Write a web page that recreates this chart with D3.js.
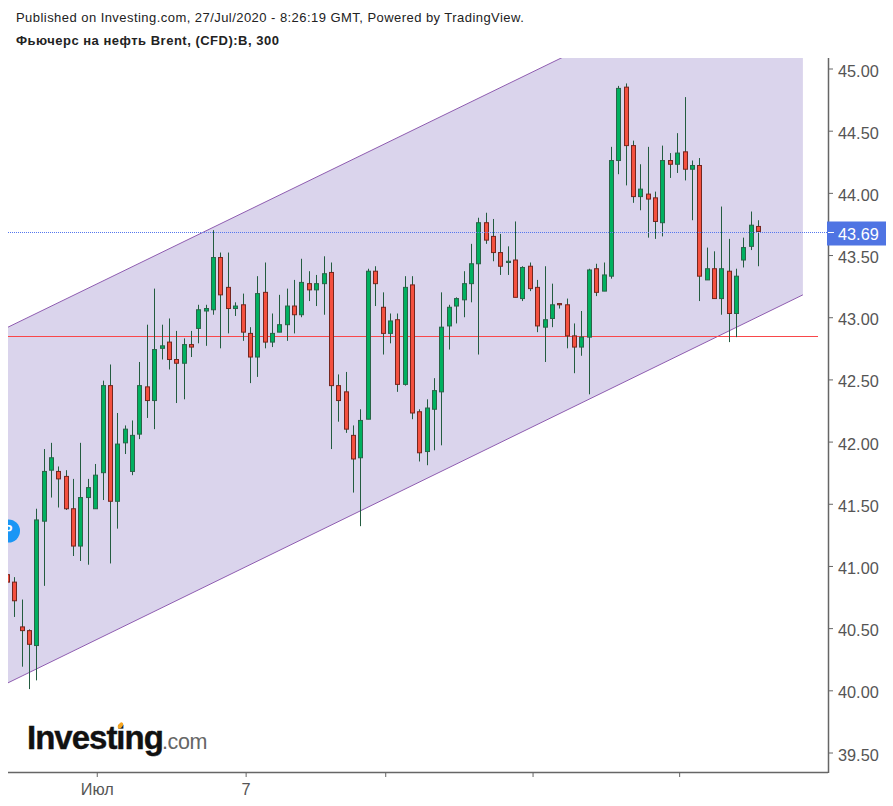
<!DOCTYPE html>
<html><head><meta charset="utf-8">
<script src="https://cdnjs.cloudflare.com/ajax/libs/d3/7.8.5/d3.min.js"></script>
<style>html,body{margin:0;background:#fff}svg{display:block}text{font-family:"Liberation Sans",Arial,sans-serif}</style>
</head><body><svg id="c" width="893" height="806"></svg>
<script>
// Bars: 0 is the clipped one at the left edge, 102 the last
const opens=[40.93,40.87,40.51,40.48,40.36,41.36,41.77,41.76,41.72,41.46,41.16,41.55,41.46,41.75,42.45,41.52,41.99,41.76,42.06,42.44,42.33,42.75,42.80,42.66,42.63,42.78,42.91,43.05,43.06,43.48,43.24,43.07,43.10,42.87,42.68,43.20,42.80,42.88,42.94,43.09,43.02,43.27,43.22,43.27,43.36,42.45,42.40,42.05,41.87,42.18,43.37,43.08,42.87,42.98,42.46,43.26,42.24,41.92,42.26,42.40,42.93,43.09,43.14,43.27,43.43,43.76,43.65,43.52,43.44,43.46,43.15,43.41,43.24,42.92,42.99,43.11,43.10,42.85,42.76,42.84,43.39,43.21,43.33,44.26,44.85,44.38,43.97,43.99,43.96,43.76,44.26,44.23,44.33,44.19,44.22,43.30,43.39,43.15,43.37,43.03,43.46,43.57,43.73];
const closes=[40.87,40.72,40.48,40.37,41.37,41.76,41.87,41.70,41.46,41.16,41.55,41.63,41.73,42.45,41.52,41.98,42.10,42.05,42.45,42.33,42.74,42.77,42.66,42.63,42.78,42.76,43.06,43.07,43.48,43.18,43.07,43.09,42.88,42.68,43.19,42.80,42.87,42.94,43.09,43.02,43.28,43.22,43.27,43.35,42.45,42.33,42.10,41.86,42.17,43.37,43.27,42.87,42.97,42.46,43.24,42.23,41.91,42.27,42.41,42.92,43.08,43.15,43.27,43.43,43.76,43.62,43.52,43.41,43.45,43.16,43.40,43.23,42.93,42.98,43.10,43.10,42.85,42.76,42.84,43.38,43.20,43.34,44.26,44.84,44.38,43.97,44.03,43.95,43.77,44.26,44.23,44.32,44.19,44.22,43.33,43.39,43.15,43.39,43.03,43.33,43.56,43.74,43.69];
const highs=[40.94,40.91,40.73,40.49,41.46,41.94,41.99,41.80,41.77,41.70,41.99,41.70,41.82,42.49,42.62,42.23,42.13,42.17,42.64,42.94,43.23,42.94,42.99,42.89,42.83,42.89,43.10,43.10,43.70,43.52,43.52,43.12,43.19,42.92,43.33,43.44,43.03,43.18,43.23,43.30,43.47,43.37,43.34,43.49,43.44,42.54,42.56,42.13,42.26,43.39,43.41,43.20,43.03,43.03,43.33,43.33,42.26,42.34,42.51,43.20,43.10,43.16,43.37,43.59,43.80,43.84,43.79,43.67,43.57,43.77,43.41,43.44,43.30,43.41,43.27,43.11,43.15,42.95,43.05,43.39,43.43,43.44,44.37,44.86,44.88,44.42,44.23,44.37,44.01,44.38,44.32,44.48,44.77,44.26,44.28,43.56,43.53,43.89,43.63,43.39,43.64,43.85,43.78];
const lows=[40.85,40.59,40.19,40.01,40.08,40.84,41.55,41.47,41.45,41.08,41.04,41.01,41.46,41.53,41.02,41.30,41.90,41.73,42.02,42.19,42.10,42.66,42.58,42.31,42.34,42.68,42.79,42.77,43.02,42.75,42.87,43.01,42.81,42.47,42.52,42.75,42.76,42.88,42.81,42.87,43.00,43.13,43.09,43.02,41.94,42.16,42.07,41.59,41.32,42.18,43.09,42.70,42.79,42.40,42.45,42.18,41.84,41.81,41.93,41.97,42.74,42.95,43.00,43.12,42.70,43.59,43.45,43.34,43.34,43.16,43.13,43.21,42.88,42.64,42.92,43.07,42.75,42.55,42.69,42.38,43.17,43.21,43.31,44.15,44.06,43.92,43.86,43.64,43.63,43.65,44.12,44.16,44.10,43.78,43.13,43.30,43.15,43.02,42.80,42.84,43.40,43.54,43.41];
const priceTicks=[39.5,40,40.5,41,41.5,42,42.5,43,43.5,44,44.5,45];
const timeTicks=[12.14,32.35,51.3,71.3,91.2];
const timeLabels=["Июл","7","","",""];
const lastPrice=43.69, support=42.85;
const channelBars=[0.09,108];
const channelUpper=[42.92,46.03];
const channelLower=[40.06,43.18];
const headerLines=["Published on Investing.com, 27/Jul/2020 - 8:26:19 GMT, Powered by TradingView.","Фьючерс на нефть Brent, (CFD):B, 300"];

const pLeft=8,pRight=828,pTop=58,pBottom=772;
const y=d3.scaleLinear().domain([45,39.5]).range([68.5,752.5]);
const x=d3.scaleLinear().domain([1,102]).range([14.7,758.7]);
const svg=d3.select("#c");
const defs=svg.append("defs");
defs.append("clipPath").attr("id","plot").append("rect").attr("x",pLeft).attr("y",pTop).attr("width",pRight-pLeft).attr("height",pBottom-pTop);
defs.append("clipPath").attr("id","chan").append("rect").attr("x",pLeft).attr("y",pTop).attr("width",x(channelBars[1])-pLeft).attr("height",pBottom-pTop);

const g=svg.append("g").attr("clip-path","url(#plot)");
// channel
const area=d3.area().x(d=>x(d[0])).y0(d=>y(d[1])).y1(d=>y(d[2]));
const chan=channelBars.map((b,i)=>[b,channelUpper[i],channelLower[i]]);
g.append("path").datum(chan).attr("clip-path","url(#chan)").attr("d",area).attr("fill","#dad4ec");
const ln=k=>d3.line().x(d=>x(d[0])).y(d=>y(d[k]));
[1,2].forEach(k=>g.append("path").datum(chan).attr("clip-path","url(#chan)").attr("d",ln(k)).attr("fill","none").attr("stroke","#8e5cb0").attr("stroke-width",1));
// badge
const bc=g.append("g");
bc.append("circle").attr("cx",8.5).attr("cy",531).attr("r",11.5).attr("fill","#1a96f5");
bc.append("text").attr("x",8).attr("y",534).attr("text-anchor","middle").attr("font-size",13).attr("font-weight","bold").attr("fill","#fff").text("P");
// level lines
g.append("line").attr("x1",pLeft).attr("x2",818).attr("y1",Math.round(y(support))+.5).attr("y2",Math.round(y(support))+.5).attr("stroke","#f9474a").attr("stroke-width",1.2);
svg.append("line").attr("x1",pLeft).attr("x2",834).attr("y1",232.5).attr("y2",232.5).attr("stroke","#5577ee").attr("stroke-dasharray","1 1");
// candles
const cx=i=>Math.floor(x(i))+.5;
const c=g.selectAll("g.k").data(opens.map((o,i)=>({i,o,c:closes[i],h:highs[i],l:lows[i]}))).enter().append("g").attr("class","k");
c.append("line").attr("x1",d=>cx(d.i)).attr("x2",d=>cx(d.i)).attr("y1",d=>y(d.h)).attr("y2",d=>y(d.l)).attr("stroke","#235c40");
c.append("rect").attr("x",d=>cx(d.i)-2).attr("width",4).attr("y",d=>y(Math.max(d.o,d.c))).attr("height",d=>Math.max(1,Math.abs(y(d.o)-y(d.c))))
 .attr("fill",d=>d.c>=d.o?"#00b060":"#f4503f").attr("stroke",d=>d.c>=d.o?"#2a6448":"#75261f").attr("stroke-width",1);
// axes
const axR=svg.append("g").attr("transform",`translate(${pRight},0)`).call(d3.axisRight(y).tickValues(priceTicks).tickFormat(d3.format(".2f")).tickSize(5).tickPadding(5));
const axB=svg.append("g").attr("transform",`translate(0,${pBottom})`).call(d3.axisBottom(x).tickValues(timeTicks).tickFormat((d,i)=>timeLabels[i]).tickSize(5).tickPadding(6));
[axR,axB].forEach(a=>{a.select(".domain").remove();a.selectAll("line").attr("stroke","#666");a.selectAll("text").attr("fill","#555").attr("font-size",16.3).attr("font-family","'Liberation Sans',Arial,sans-serif");});
axR.selectAll("text").attr("dy","0.46em");
svg.append("line").attr("x1",pRight+.5).attr("x2",pRight+.5).attr("y1",pTop).attr("y2",pBottom+1).attr("stroke","#666").attr("stroke-width",1.5);
svg.append("line").attr("x1",pLeft).attr("x2",pRight).attr("y1",pBottom+.5).attr("y2",pBottom+.5).attr("stroke","#666").attr("stroke-width",1.5);
// last price tag
svg.append("rect").attr("x",827).attr("y",221.5).attr("width",59).attr("height",24).attr("fill","#4f74e3");
svg.append("line").attr("x1",828).attr("x2",834).attr("y1",232.5).attr("y2",232.5).attr("stroke","#fff");
svg.append("text").attr("x",838).attr("y",239.5).attr("font-size",16.3).attr("fill","#fff").text(d3.format(".2f")(lastPrice));
// header
svg.selectAll("text.h").data(headerLines).enter().append("text").attr("class","h").attr("x",16).attr("y",(d,i)=>22+i*22.5).attr("font-size",13).attr("letter-spacing",(d,i)=>i?0.5:0.45).attr("fill","#222").attr("font-weight",(d,i)=>i?"bold":"normal").text(d=>d);
// logo
const logo=svg.append("g");
logo.append("text").attr("x",27).attr("y",749).attr("font-size",33).attr("font-weight","bold").attr("letter-spacing",-1).attr("stroke","#111").attr("stroke-width",0.4).attr("fill","#111").text("Investing");
logo.append("text").attr("x",162).attr("y",749).attr("font-size",21.5).attr("fill","#666").attr("letter-spacing",-0.4).text(".com");
logo.append("ellipse").attr("cx",120.5).attr("cy",725.5).attr("rx",2).attr("ry",3.5).attr("transform","rotate(35 120.5 725.5)").attr("fill","#f5a623");
</script></body></html>
